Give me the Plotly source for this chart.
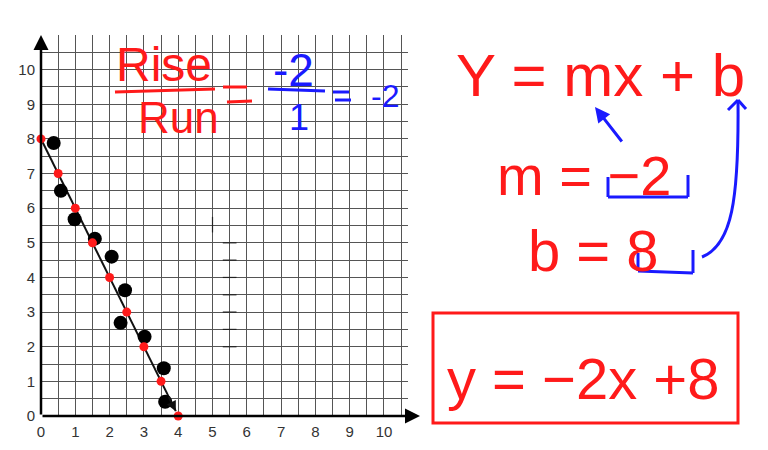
import plotly.graph_objects as go

# line y = -2x + 8 drawn through the red points
line_x = [0, 3.93]
line_y = [8, 0.14]

# red points on the line
red_x = [0, 0.5, 1, 1.5, 2, 2.5, 3, 3.5, 4]
red_y = [8, 7, 6, 5, 4, 3, 2, 1, 0]

# black data points
dot_x = [0.37, 0.58, 0.98, 1.57, 2.06, 2.45, 2.32, 3.02, 3.58, 3.62]
dot_y = [7.88, 6.5, 5.68, 5.12, 4.6, 3.63, 2.69, 2.29, 1.38, 0.41]

# little tally marks drawn next to the grid
tally_y = [5, 4.5, 4, 3.5, 3, 2.5, 2]

ticks = list(range(11))

RED = "#ff1a1a"
BLUE = "#1a1aff"
HAND = "Liberation Sans"
OFF = 8  # page body margin


def px(x):
    return (x - OFF) / 768


def py(y):
    return 1 - (y - OFF) / 450


fig = go.Figure()

fig.add_trace(go.Scatter(x=line_x, y=line_y, mode="lines",
                         line=dict(color="#111", width=2), hoverinfo="skip"))
fig.add_trace(go.Scatter(x=dot_x, y=dot_y, mode="markers",
                         marker=dict(color="black", size=14), cliponaxis=False))
fig.add_trace(go.Scatter(x=red_x, y=red_y, mode="markers",
                         marker=dict(color=RED, size=9), cliponaxis=False))

shapes = []
# tally marks
shapes.append(dict(type="line", xref="x", yref="y", x0=5.0, x1=5.0, y0=5.3, y1=5.75,
                   line=dict(color="#222", width=1.2)))
for ty in tally_y:
    shapes.append(dict(type="line", xref="x", yref="y", x0=5.3, x1=5.7, y0=ty, y1=ty,
                       line=dict(color="#222", width=1.2)))


def seg(x0, y0, x1, y1, color, w=3):
    shapes.append(dict(type="line", xref="paper", yref="paper",
                       x0=px(x0), y0=py(y0), x1=px(x1), y1=py(y1),
                       line=dict(color=color, width=w)))


# fraction lines and equals signs
seg(115, 92, 215, 89, RED)
seg(223, 87, 247, 87, RED)
seg(227, 102, 252, 101, RED)
seg(268, 89, 325, 91, BLUE)
seg(333, 92, 349, 92, BLUE)
seg(335, 100, 351, 100, BLUE)

# blue brackets
seg(608, 177, 608, 197, BLUE)
seg(608, 197, 688, 197, BLUE)
seg(688, 175, 688, 197, BLUE)
seg(638, 253, 638, 271, BLUE)
seg(638, 271, 693, 273, BLUE)
seg(693, 250, 693, 273, BLUE)

# curved blue arrow from b=8 up to b
path = "M {} {} C {} {}, {} {}, {} {}".format(px(702), py(257), px(732), py(245),
                                             px(739), py(200), px(738), py(100))
shapes.append(dict(type="path", xref="paper", yref="paper", path=path,
                   line=dict(color=BLUE, width=3)))
seg(738, 100, 728, 110, BLUE)
seg(738, 100, 746, 109, BLUE)

# red box
shapes.append(dict(type="rect", xref="paper", yref="paper",
                   x0=px(433), x1=px(738), y0=py(423), y1=py(313),
                   line=dict(color=RED, width=3)))

annotations = []


def text(t, x, y, size, color):
    annotations.append(dict(text=t, xref="paper", yref="paper", x=px(x), y=py(y),
                            xanchor="center", yanchor="middle", showarrow=False,
                            font=dict(family=HAND, size=size, color=color)))


text("Rise", 164, 64, 48, RED)
text("Run", 178, 117, 44, RED)
text("-2", 293, 70, 46, BLUE)
text("1", 299, 117, 36, BLUE)
text("-2", 385, 96, 32, BLUE)
text("Y = mx + b", 600, 76, 60, RED)
text("m = −2", 584, 175, 56, RED)
text("b = 8", 593, 250, 58, RED)
text("y = −2x +8", 583, 378, 58, RED)

# blue arrow from m = -2 up to m
annotations.append(dict(xref="paper", yref="paper", x=px(595), y=py(107), ax=28, ay=36,
                        text="", showarrow=True, arrowhead=2, arrowsize=1,
                        arrowwidth=3, arrowcolor=BLUE))

# axis arrows
annotations.append(dict(xref="x", yref="y", axref="x", ayref="y", x=11.05, y=0, ax=0, ay=0,
                        text="", showarrow=True, arrowhead=2, arrowsize=1.2,
                        arrowwidth=2.5, arrowcolor="black"))
annotations.append(dict(xref="x", yref="y", axref="x", ayref="y", x=0, y=11.0, ax=0, ay=0,
                        text="", showarrow=True, arrowhead=2, arrowsize=1.2,
                        arrowwidth=2.5, arrowcolor="black"))
# arrow tip on the line
annotations.append(dict(xref="x", yref="y", axref="x", ayref="y", x=3.93, y=0.14, ax=3.7, ay=0.6,
                        text="", showarrow=True, arrowhead=2, arrowsize=1,
                        arrowwidth=2, arrowcolor="#111"))

tickfont = dict(family="Liberation Sans", size=15, color="#333")
fig.update_layout(
    width=768, height=450,
    margin=dict(l=0, r=0, t=0, b=0),
    paper_bgcolor="white", plot_bgcolor="white",
    showlegend=False,
    shapes=shapes, annotations=annotations,
    xaxis=dict(domain=[(41 - OFF) / 768, (408 - OFF) / 768], range=[0, 10.7],
               tickmode="array", tickvals=ticks,
               showgrid=True, gridcolor="#555", gridwidth=1,
               minor=dict(dtick=0.5, tick0=0, showgrid=True, gridcolor="#555", gridwidth=1),
               zeroline=False, showline=False, ticks="", fixedrange=True, automargin=False,
               ticklabelstandoff=5, tickfont=tickfont),
    yaxis=dict(domain=[(450 - 416 + OFF) / 450, (450 - 35 + OFF) / 450], range=[0, 11.0],
               tickmode="array", tickvals=ticks,
               showgrid=True, gridcolor="#555", gridwidth=1,
               minor=dict(dtick=0.5, tick0=0, showgrid=True, gridcolor="#555", gridwidth=1),
               zeroline=False, showline=False, ticks="", fixedrange=True, automargin=False,
               ticklabelstandoff=5, tickfont=tickfont),
)

fig.write_html("out.html")
